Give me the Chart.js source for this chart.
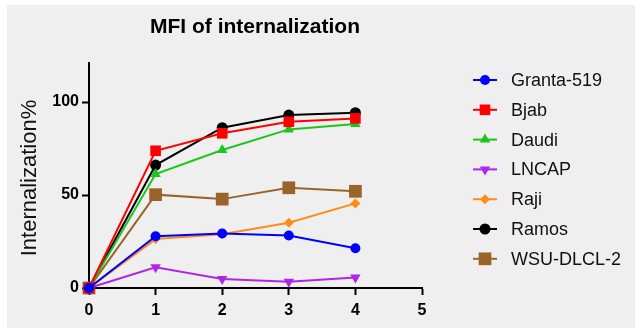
<!DOCTYPE html>
<html>
<head>
<meta charset="utf-8">
<script src="https://cdn.jsdelivr.net/npm/chart.js@4"></script>
<style>
  html, body { margin: 0; padding: 0; background: #fff; }
  #wrap { width: 640px; height: 332px; }
</style>
</head>
<body>
<div id="wrap"><canvas id="grafico" width="640" height="332"></canvas></div>
<script>
// Dados
const tempos = [0, 1, 2, 3, 4];
const linhas = ['Granta-519', 'Bjab', 'Daudi', 'LNCAP', 'Raji', 'Ramos', 'WSU-DLCL-2'];
const granta = [0, 27.8, 29.3, 28.2, 21.4];
const bjab   = [0, 73.8, 83.2, 89.4, 91.2];
const daudi  = [0, 61.3, 74.2, 85.3, 88.2];
const lncap  = [0, 11.1, 4.8, 3.4, 5.7];
const raji   = [0, 26.3, 28.9, 35.1, 45.5];
const ramos  = [0, 66.1, 86.2, 93.0, 94.3];
const wsu    = [0, 50.2, 47.8, 53.9, 52.0];
const yTicks = [0, 50, 100];

const valores = [granta, bjab, daudi, lncap, raji, ramos, wsu];
const cores = ['#0000ff', '#ff0000', '#1ec41e', '#b026e6', '#ff8c1a', '#000000', '#9a6429'];
const estilos = [
  { s: 'circle', r: 5, rot: 0 },
  { s: 'rect', r: 7.5, rot: 0 },
  { s: 'triangle', r: 6, rot: 0 },
  { s: 'triangle', r: 6, rot: 180 },
  { s: 'rectRot', r: 5, rot: 0 },
  { s: 'circle', r: 5.5, rot: 0 },
  { s: 'rect', r: 9, rot: 0 }
];

const datasets = linhas.map((nome, i) => ({
  label: nome,
  data: tempos.map((t, j) => ({ x: t, y: valores[i][j] })),
  borderColor: cores[i],
  backgroundColor: cores[i],
  borderWidth: 2,
  pointStyle: estilos[i].s,
  pointRadius: estilos[i].r,
  pointRotation: estilos[i].rot,
  pointBorderWidth: 0,
  clip: false,
  tension: 0
}));

// Fundo, título, rótulo do eixo e legenda
const extras = {
  id: 'extras',
  beforeDraw(chart) {
    const ctx = chart.ctx;
    ctx.save();
    ctx.fillStyle = '#efefef';
    ctx.fillRect(7, 5, 628, 323);
    ctx.restore();
  },
  afterDraw(chart) {
    const ctx = chart.ctx;
    ctx.save();
    ctx.fillStyle = '#000';
    ctx.textAlign = 'center';
    ctx.textBaseline = 'middle';
    ctx.font = 'bold 21px "Liberation Sans", Arial, sans-serif';
    ctx.fillText('MFI of internalization', 255, 27);

    ctx.save();
    ctx.translate(30, 178);
    ctx.rotate(-Math.PI / 2);
    ctx.font = '22px "Liberation Sans", Arial, sans-serif';
    ctx.fillStyle = '#111';
    ctx.fillText('Internalization%', 0, 0);
    ctx.restore();

    ctx.font = '18px "Liberation Sans", Arial, sans-serif';
    ctx.textAlign = 'left';
    linhas.forEach((nome, i) => {
      const y = 80 + i * 29.8;
      ctx.strokeStyle = cores[i];
      ctx.fillStyle = cores[i];
      ctx.lineWidth = 2;
      ctx.beginPath();
      ctx.moveTo(473, y);
      ctx.lineTo(497, y);
      ctx.stroke();
      Chart.helpers.drawPoint(ctx, {
        pointStyle: estilos[i].s,
        radius: estilos[i].r,
        rotation: estilos[i].rot,
        borderWidth: 0
      }, 485, y);
      ctx.fillStyle = '#111';
      ctx.fillText(nome, 511, y + 1);
    });
    ctx.restore();
  }
};

new Chart(document.getElementById('grafico'), {
  type: 'line',
  data: { datasets },
  options: {
    responsive: false,
    animation: false,
    layout: { padding: { left: 0, top: 63, right: 218, bottom: 0 } },
    plugins: {
      legend: { display: false },
      title: { display: false },
      tooltip: { enabled: false }
    },
    scales: {
      x: {
        type: 'linear',
        min: 0,
        max: 5,
        afterFit: (s) => { s.height = 44; },
        ticks: {
          stepSize: 1,
          color: '#000',
          padding: 6,
          font: { family: '"Liberation Sans", Arial, sans-serif', size: 16, weight: 'bold' }
        },
        grid: { drawOnChartArea: false, tickLength: 7, tickColor: '#000', tickWidth: 2 },
        border: { color: '#000', width: 2 }
      },
      y: {
        min: 0,
        max: 121,
        afterFit: (s) => { s.width = 89; },
        afterBuildTicks: (s) => { s.ticks = yTicks.map(v => ({ value: v })); },
        ticks: {
          color: '#000',
          padding: 3,
          font: { family: '"Liberation Sans", Arial, sans-serif', size: 16, weight: 'bold' }
        },
        grid: { drawOnChartArea: false, tickLength: 7, tickColor: '#000', tickWidth: 2 },
        border: { color: '#000', width: 2 }
      }
    }
  },
  plugins: [extras]
});
</script>
</body>
</html>
